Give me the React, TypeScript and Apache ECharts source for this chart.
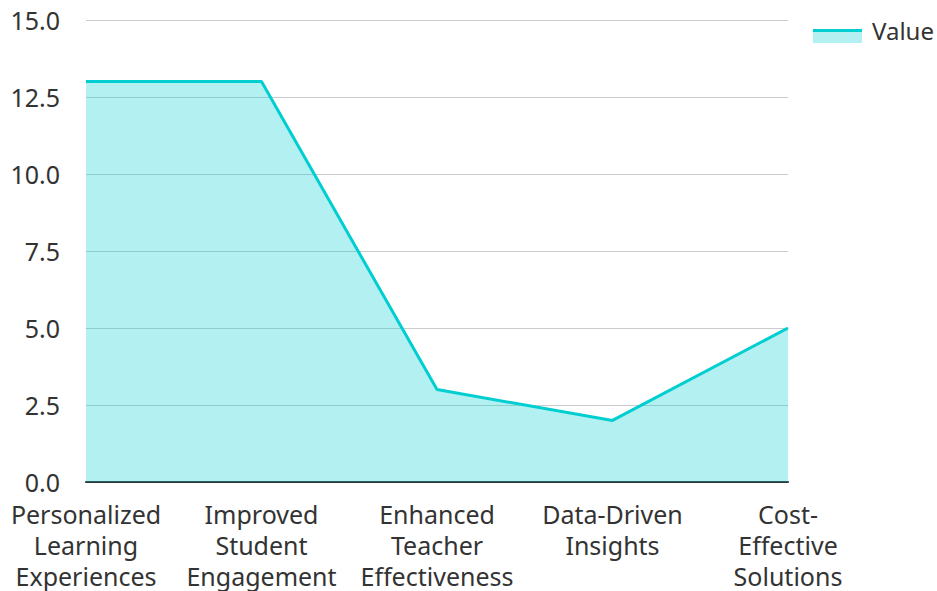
import React, { useEffect, useRef } from "react";
import * as echarts from "echarts";

const categories = [
  "Personalized Learning Experiences",
  "Improved Student Engagement",
  "Enhanced Teacher Effectiveness",
  "Data-Driven Insights",
  "Cost-Effective Solutions",
];
const values = [13, 13, 3, 2, 5];
const seriesName = "Value";

const wrapLabel = (v: string) =>
  v
    .split(" ")
    .map((w) => (w.length > 12 && w.includes("-") ? w.replace("-", "-\n") : w))
    .join("\n");

export default function App() {
  const ref = useRef<HTMLDivElement>(null);
  useEffect(() => {
    const chart = echarts.init(ref.current!, null, { renderer: "svg" });
    const font = "'Noto Sans', sans-serif";
    chart.setOption({
      animation: false,
      textStyle: { fontFamily: font },
      grid: { left: 86, right: 149, top: 20, bottom: 105, containLabel: false },
      legend: {
        data: [{ name: seriesName, icon: "rect" }],
        left: 808,
        top: 13,
        itemWidth: 49,
        itemHeight: 14,
        itemGap: 8,
        itemStyle: { color: "rgba(0,0,0,0)", borderWidth: 0 },
        lineStyle: { width: 0 },
        textStyle: { fontSize: 24, color: "#333", fontFamily: font, padding: [0, 0, 8, 5] },
      },
      graphic: [
        {
          type: "rect",
          shape: { x: 813, y: 29, width: 49, height: 14 },
          style: { fill: "rgba(0,206,209,0.3)" },
          silent: true,
        },
        {
          type: "rect",
          shape: { x: 813, y: 29, width: 49, height: 3 },
          style: { fill: "#00CED1" },
          silent: true,
        },
      ],
      xAxis: {
        type: "category",
        data: categories,
        boundaryGap: false,
        axisLine: { lineStyle: { color: "#333", width: 2 } },
        axisTick: { show: false },
        axisLabel: {
          interval: 0,
          fontSize: 25,
          lineHeight: 31,
          color: "#333",
          fontFamily: font,
          margin: 16,
          formatter: wrapLabel,
        },
        splitLine: { show: false },
      },
      yAxis: {
        type: "value",
        min: 0,
        max: 15,
        interval: 2.5,
        axisLine: { show: false },
        axisTick: { show: false },
        axisLabel: {
          fontSize: 25,
          lineHeight: 20,
          color: "#333",
          fontFamily: font,
          margin: 26,
          formatter: (v: number) => v.toFixed(1),
        },
        splitLine: { lineStyle: { color: "#ccc", width: 1 } },
      },
      series: [
        {
          name: seriesName,
          type: "line",
          data: values,
          symbol: "none",
          lineStyle: { color: "#00CED1", width: 3 },
          itemStyle: { color: "#00CED1" },
          areaStyle: { color: "#00CED1", opacity: 0.3 },
        },
      ],
    });
    return () => chart.dispose();
  }, []);
  return <div ref={ref} style={{ width: 937, height: 591, position: "absolute", left: 0, top: 0 }} />;
}
